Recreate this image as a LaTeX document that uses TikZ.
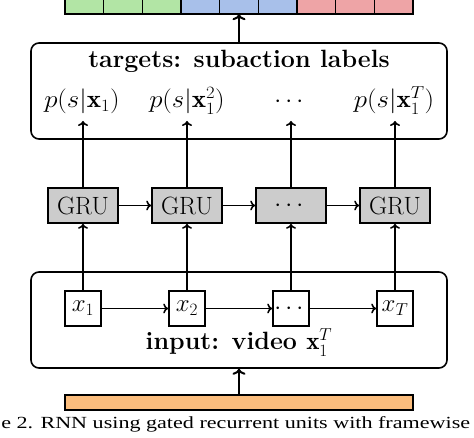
\documentclass[tikz,border=0pt]{standalone}
\usepackage{fontspec}
\usepackage{amsmath}
\usetikzlibrary{arrows.meta}
\newfontfamily\capfont{Liberation Serif}
\definecolor{cgreen}{HTML}{B2E5A5}
\definecolor{cblue}{HTML}{A8C0EA}
\definecolor{cred}{HTML}{EEA4A6}
\definecolor{corange}{HTML}{FBBD7D}
\definecolor{cgray}{HTML}{CCCCCC}
\tikzset{
  lw/.style={line width=1.6pt},
  arr/.style={lw,-{To[length=5pt,width=10pt]}},
  bigarr/.style={line width=2pt,-{To[length=6pt,width=13pt]}},
  bigbox/.style={draw,lw,rounded corners=8pt,minimum width=416pt,minimum height=96pt,inner sep=0pt},
  grubox/.style={draw,lw,fill=cgray,minimum width=70pt,minimum height=35pt,inner sep=0pt,font=\fontsize{25}{29}\selectfont},
  xbox/.style={draw,lw,minimum width=36pt,minimum height=35pt,inner sep=0pt,font=\fontsize{25}{29}\selectfont},
  lbl/.style={inner sep=0pt,anchor=base,font=\fontsize{25}{29}\selectfont},
  cell/.style={draw,lw,minimum width=38.67pt,minimum height=16pt,inner sep=0pt},
}
\begin{document}
\begin{tikzpicture}[x=1pt,y=-1pt]
\useasboundingbox (0,0) rectangle (474,438);
% top bar
\foreach \i/\c in {0/cgreen,1/cgreen,2/cgreen,3/cblue,4/cblue,5/cblue,6/cred,7/cred,8/cred}{
  \node[cell,fill=\c] (c\i) at ({65+38.67*\i+19.33},6) {};
}
\node[inner sep=0pt,minimum width=348pt,minimum height=16pt] (topbar) at (239,6) {};
% targets box
\node[bigbox] (targets) at (239,91) {};
\node[lbl,font=\fontsize{25}{29}\selectfont\bfseries] (ttl) at (239,68) {targets: subaction labels};
\node[lbl,xscale=1.08] (p1) at (82,108) {$p(s|\mathbf{x}_1)$};
\node[lbl,xscale=1.08] (p2) at (187,108) {$p(s|\mathbf{x}_1^2)$};
\node[lbl] (p3) at (291,108) {$\cdots$};
\node[lbl,xscale=1.08] (p4) at (394,108) {$p(s|\mathbf{x}_1^T)$};
% GRUs
\node[grubox] (g1) at (83,205.5) {GRU};
\node[grubox] (g2) at (187,205.5) {GRU};
\node[grubox] (g3) at (291,205.5) {$\cdots$};
\node[grubox] (g4) at (395,205.5) {GRU};
% input box
\node[bigbox] (input) at (239,320) {};
\node[xbox] (x1) at (83,308.5) {$x_1$};
\node[xbox] (x2) at (187,308.5) {$x_2$};
\node[xbox] (x3) at (291,308.5) {$\cdots$};
\node[xbox] (x4) at (395,308.5) {$x_T$};
\node[lbl,font=\fontsize{25}{29}\selectfont\bfseries] (inl) at (239,350) {input: video $\mathbf{x}_1^T$};
% bottom bar
\node[draw,lw,fill=corange,minimum width=348pt,minimum height=15pt,inner sep=0pt] (botbar) at (239,402.5) {};
% connectors
\draw[bigarr] (targets.north) -- (topbar.south);
\draw[bigarr] (botbar.north) -- (input.south);
\foreach \a/\b in {g1/g2,g2/g3,g3/g4,x1/x2,x2/x3,x3/x4}{
  \draw[arr] (\a.east) -- (\b.west);
}
\foreach \i in {1,2,3,4}{
  \draw[arr] (x\i.north) -- (g\i.south);
  \coordinate (e\i) at (g\i.north |- 0,121);
  \draw[arr] (g\i.north) -- (e\i);
}
% caption fragment
\node[inner sep=0pt,anchor=base west,xscale=1.3,font=\capfont\fontsize{17}{20}\selectfont] (cap) at (1,428) {e 2. RNN using gated recurrent units with framewise};
\end{tikzpicture}
\end{document}
